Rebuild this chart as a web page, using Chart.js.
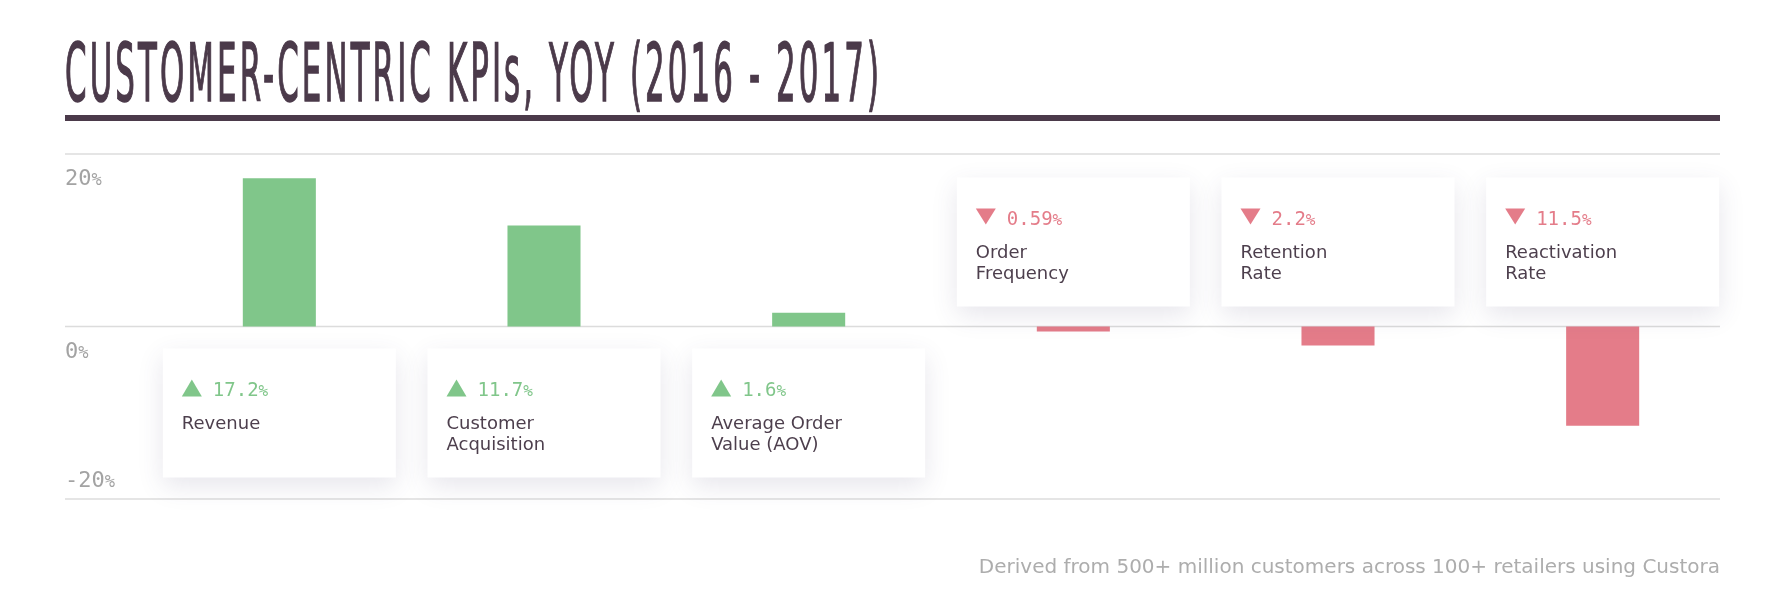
<!DOCTYPE html>
<html lang="en">
   <head>
      <meta charset="UTF-8" />
      <title>Customer-centric KPIs, YOY</title>
      <style>
         body { margin: 0; background: #fff; }
         canvas { display: block; }
      </style>
   </head>
   <body>
      <canvas id="chart_kpi" width="1790" height="611"></canvas>
   </body>
</html>

<script src="https://cdn.jsdelivr.net/npm/chart.js"></script>
<script>
   // dados
   const categorias = [
      "Revenue",
      "Customer Acquisition",
      "Average Order Value (AOV)",
      "Order Frequency",
      "Retention Rate",
      "Reactivation Rate",
   ];
   const linhas_card = [
      ["Revenue"],
      ["Customer", "Acquisition"],
      ["Average Order", "Value (AOV)"],
      ["Order", "Frequency"],
      ["Retention", "Rate"],
      ["Reactivation", "Rate"],
   ];
   const variacao = [17.2, 11.7, 1.6, -0.59, -2.2, -11.5];
   const ticks_y = [20, 0, -20];

   const titulo = "CUSTOMER-CENTRIC KPIs, YOY (2016 - 2017)";
   const rodape = "Derived from 500+ million customers across 100+ retailers using Custora";

   const verde = "#80c68a";
   const vermelho = "#e47c89";
   const roxo = "#4b3a4a";

   // numero + % menor
   function desenhaValor(ctx, x, y, texto, tam, tamPct, cor, fonte) {
      ctx.fillStyle = cor;
      ctx.textAlign = "left";
      ctx.font = tam + "px " + fonte;
      ctx.fillText(texto, x, y);
      const w = ctx.measureText(texto).width;
      ctx.font = tamPct + "px " + fonte;
      ctx.fillText("%", x + w, y);
   }

   const decoracao = {
      id: "decoracao",
      beforeDraw(chart) {
         const ctx = chart.ctx;
         const y = chart.scales.y;
         ctx.save();
         ctx.fillStyle = "#fff";
         ctx.fillRect(0, 0, chart.width, chart.height);

         // titulo condensado
         ctx.fillStyle = roxo;
         ctx.strokeStyle = roxo;
         ctx.font = '80px "DejaVu Sans"';
         ctx.letterSpacing = "8px";
         ctx.textBaseline = "alphabetic";
         const wt = ctx.measureText(titulo).width - 8;
         ctx.save();
         ctx.translate(65, 101);
         ctx.scale(814 / wt, 1);
         ctx.fillText(titulo, 0, 0);
         ctx.lineWidth = 1.6;
         ctx.strokeText(titulo, 0, 0);
         ctx.restore();
         ctx.letterSpacing = "0px";
         ctx.fillRect(65, 115, 1655, 6);

         // linhas de grade
         ctx.strokeStyle = "#dcdcdc";
         ctx.lineWidth = 1.5;
         ticks_y.forEach((t) => {
            const py = y.getPixelForValue(t);
            ctx.beginPath();
            ctx.moveTo(65, py);
            ctx.lineTo(1720, py);
            ctx.stroke();
            const dy = t > y.min ? 31 : -12;
            desenhaValor(ctx, 65, py + dy, String(t), 22, 17, "#a3a3a3", '"DejaVu Sans Mono"');
         });

         // rodape
         ctx.font = '20px "DejaVu Sans"';
         ctx.fillStyle = "#adadad";
         ctx.textAlign = "right";
         ctx.fillText(rodape, 1720, 573);
         ctx.restore();
      },
      afterDatasetsDraw(chart) {
         const ctx = chart.ctx;
         const zero = chart.scales.y.getPixelForValue(0);
         const barras = chart.getDatasetMeta(0).data;
         ctx.save();
         variacao.forEach((v, i) => {
            const cx = barras[i].x;
            const left = cx - 116.5;
            const top = v >= 0 ? zero + 22 : zero - 20 - 129;
            const cor = v >= 0 ? verde : vermelho;

            ctx.shadowColor = "rgba(70, 60, 110, 0.13)";
            ctx.shadowBlur = 24;
            ctx.shadowOffsetY = 8;
            ctx.fillStyle = "#fff";
            ctx.fillRect(left, top, 233, 129);
            ctx.shadowColor = "transparent";
            ctx.shadowBlur = 0;
            ctx.shadowOffsetY = 0;

            // triangulo
            ctx.fillStyle = cor;
            ctx.beginPath();
            if (v >= 0) {
               ctx.moveTo(left + 19, top + 48);
               ctx.lineTo(left + 39, top + 48);
               ctx.lineTo(left + 29, top + 31);
            } else {
               ctx.moveTo(left + 19, top + 31);
               ctx.lineTo(left + 39, top + 31);
               ctx.lineTo(left + 29, top + 47);
            }
            ctx.closePath();
            ctx.fill();

            desenhaValor(ctx, left + 50, top + 47, String(Math.abs(v)), 19, 16, cor, '"DejaVu Sans Mono"');

            ctx.fillStyle = "#4d3f4d";
            ctx.font = '18px "DejaVu Sans"';
            linhas_card[i].forEach((l, k) => {
               ctx.fillText(l, left + 19, top + 80 + k * 21);
            });
         });
         ctx.restore();
      },
   };

   const data_kpi = {
      labels: categorias,
      datasets: [
         {
            data: variacao,
            backgroundColor: variacao.map((v) => (v >= 0 ? verde : vermelho)),
            barPercentage: 0.276,
            categoryPercentage: 1,
         },
      ],
   };

   const config_kpi = {
      type: "bar",
      data: data_kpi,
      options: {
         responsive: false,
         animation: false,
         layout: {
            padding: { left: 147, right: 55, top: 154, bottom: 112 },
         },
         scales: {
            x: { display: false },
            y: { display: false, min: -20, max: 20 },
         },
         plugins: {
            legend: false,
            tooltip: { enabled: false },
         },
      },
      plugins: [decoracao],
   };

   const grafico_kpi = new Chart(
      document.getElementById("chart_kpi"),
      config_kpi
   );
</script>
